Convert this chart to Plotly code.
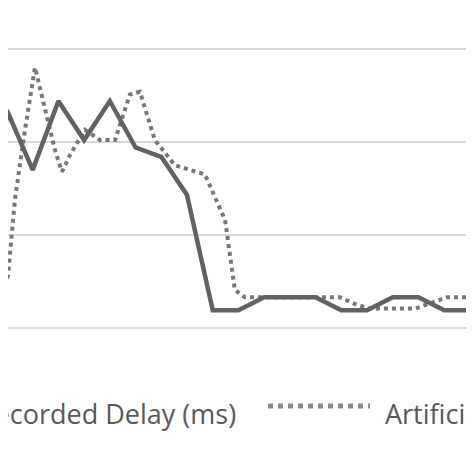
import plotly.graph_objects as go

# recorded delay, sample index vs delay
recorded_x = [-0.27, 0, 1, 2, 3, 4, 5, 6, 7, 8, 9, 10, 11, 12, 13, 14, 15, 16, 17, 18, 18.6]
recorded_y = [1.48, 2.34, 1.70, 2.44, 2.02, 2.44, 1.94, 1.84, 1.43, 0.19, 0.19, 0.33, 0.33, 0.33,
              0.19, 0.19, 0.33, 0.33, 0.19, 0.19, 0.40]

# artificial delay
artificial_x = [-0.39, 0.04, 0.31, 0.70, 1.09, 1.40, 1.87, 2.14, 2.45, 3.03, 3.62, 4.20, 4.78, 5.17,
                5.75, 6.53, 7.70, 8.48, 8.86, 9.25, 12.95, 13.6, 14.1, 15.9, 17.1, 18.6]
artificial_y = [0.30, 0.56, 1.38, 2.13, 2.80, 2.45, 1.91, 1.68, 1.86, 2.13, 2.02, 2.02, 2.51, 2.54,
                2.02, 1.75, 1.65, 1.16, 0.41, 0.33, 0.33, 0.25, 0.21, 0.21, 0.33, 0.33]

fig = go.Figure()
fig.add_trace(go.Scatter(x=artificial_x, y=artificial_y, mode='lines',
                         line=dict(color='#777777', width=4, dash='dot')))
fig.add_trace(go.Scatter(x=recorded_x, y=recorded_y, mode='lines',
                         line=dict(color='#626262', width=4.5)))

fig.update_layout(
    width=474, height=474,
    margin=dict(l=0, r=0, t=0, b=134),
    plot_bgcolor='white', paper_bgcolor='white',
    showlegend=False,
    font=dict(family='Open Sans', size=27, color='#595959'),
    xaxis=dict(range=[0.04, 18.47], showgrid=False, zeroline=False,
               showticklabels=False, fixedrange=True),
    yaxis=dict(range=[-0.215, 3.44], tickvals=[0, 1, 2, 3, 3.43], showgrid=True,
               gridcolor='#d9d9d9', gridwidth=2, zeroline=False,
               showticklabels=False, fixedrange=True),
)

# legend drawn by hand since it is cut off at both sides
fig.add_annotation(text='Recorded Delay (ms)', xref='paper', yref='paper',
                   x=230 / 474, y=-65 / 340, xanchor='right', yanchor='middle',
                   showarrow=False)
fig.add_shape(type='line', xref='paper', yref='paper',
              x0=260 / 474, x1=362 / 474, y0=-58 / 340, y1=-58 / 340,
              line=dict(color='#8a8a8a', width=5, dash='dot'))
fig.add_annotation(text='Artificial Delay (ms)', xref='paper', yref='paper',
                   x=375 / 474, y=-65 / 340, xanchor='left', yanchor='middle',
                   showarrow=False)

fig.write_html("out.html")
